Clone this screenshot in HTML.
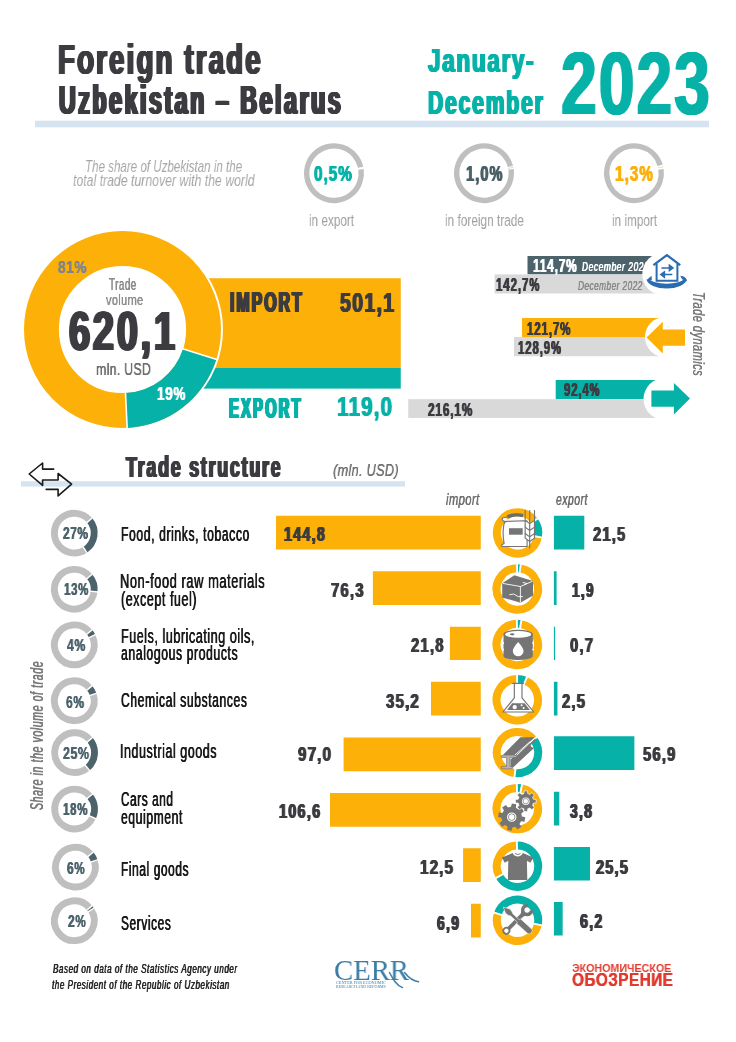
<!DOCTYPE html>
<html><head><meta charset="utf-8"><title>Foreign trade Uzbekistan - Belarus</title>
<style>
html,body{margin:0;padding:0;background:#fff;}
#p{position:relative;width:736px;height:1042px;overflow:hidden;background:#fff;font-family:"Liberation Sans",sans-serif;}
#p svg{position:absolute;left:0;top:0;}
.t{position:absolute;white-space:nowrap;line-height:1;font-weight:700;transform-origin:0 0;will-change:transform;}
.r{position:absolute;width:0;height:0;}
</style></head><body><div id="p">
<svg width="736" height="1042" viewBox="0 0 736 1042">
<rect x="35" y="120.7" width="674.00" height="6.60" fill="#d6e4f1"/>
<path d="M361.03,169.40A27.3,27.3 0 1 1 360.65,167.29" fill="none" stroke="#bfbfbf" stroke-width="5.4"/>
<path d="M511.03,169.40A27.3,27.3 0 1 1 510.43,166.36" fill="none" stroke="#bfbfbf" stroke-width="5.4"/>
<path d="M510.69,167.45A27.3,27.3 0 0 1 510.86,168.30" fill="none" stroke="#c9d0d4" stroke-width="5.4"/>
<path d="M661.03,169.40A27.3,27.3 0 1 1 660.11,165.22" fill="none" stroke="#bfbfbf" stroke-width="5.4"/>
<path d="M660.56,166.87A27.3,27.3 0 0 1 660.74,167.71" fill="none" stroke="#fbdc9c" stroke-width="5.4"/>
<rect x="150" y="278.25" width="250.75" height="89.55" fill="#fcb008"/>
<rect x="150" y="367.8" width="250.75" height="20.80" fill="#06b2a8"/>
<circle cx="122.5" cy="329.5" r="100.5" fill="#fff"/>
<circle cx="122.5" cy="329.5" r="81.05" fill="none" stroke="#fcb008" stroke-width="34.9"/>
<path d="M216.34,359.45A98.5,98.5 0 0 1 127.14,427.89L125.50,393.03A63.6,63.6 0 0 0 183.09,348.84Z" fill="#06b2a8"/>
<path d="M182.61,348.68L216.81,359.60" stroke="#fff" stroke-width="1.6"/>
<path d="M125.47,392.53L127.16,428.39" stroke="#fff" stroke-width="1.6"/>
<rect x="527.5" y="256" width="134.50" height="18.40" fill="#4d636c"/>
<rect x="494.6" y="274.4" width="167.40" height="19.10" fill="#d9d9d9"/>
<rect x="522" y="318" width="140.00" height="19.00" fill="#fcb008"/>
<rect x="514" y="337" width="148.00" height="19.25" fill="#d9d9d9"/>
<rect x="555.7" y="380" width="106.30" height="19.20" fill="#06b2a8"/>
<rect x="408.25" y="399.2" width="253.75" height="18.80" fill="#d9d9d9"/>
<rect x="21" y="481.2" width="384.00" height="5.40" fill="#d6e4f1"/>
<path d="M53.7,469.1H42.6V463L29.2,474L42.6,485.4V480H58.1V473.5L71.6,484.1L58.1,495.9V489.4H46.2" fill="none" stroke="#1a1a1a" stroke-width="1.6" stroke-linejoin="round" stroke-linecap="round"/>
<rect x="276.0" y="515.75" width="204.75" height="33.75" fill="#fcb008"/>
<rect x="553.9" y="515.75" width="30.40" height="33.75" fill="#06b2a8"/>
<path d="M537.95,536.77A20.7,20.7 0 1 1 534.35,520.83" fill="none" stroke="#fcb008" stroke-width="8.0"/>
<path d="M534.35,520.83A20.7,20.7 0 0 1 537.95,536.77" fill="none" stroke="#06b2a8" stroke-width="8.0"/>
<path d="M530.71,523.48L537.99,518.19" stroke="#fff" stroke-width="1.9"/>
<path d="M533.53,535.95L542.38,537.59" stroke="#fff" stroke-width="1.9"/>
<g transform="translate(517.6,533)"><path d="M-11.2,-11.6L6,-12.3L9.5,-12V13.5H-15.8V11.8L-13.5,10.4C-14.7,4 -14.7,-3 -13.7,-8.6C-13.5,-10 -12.5,-11.4 -11.2,-11.6Z" fill="#fff" stroke="#757575" stroke-width="1.15" stroke-linejoin="round" stroke-linecap="round"/><path d="M-10.6,-11.6C-13.5,-11.2 -15.7,-12.2 -15.4,-14.3C-15.2,-15.7 -13.3,-15.3 -11,-15.8" fill="#fff" stroke="#757575" stroke-width="1.15" stroke-linejoin="round" stroke-linecap="round"/><path d="M-10.2,-15.9C-6,-18.5 1,-18.6 5.4,-17.4" fill="none" stroke="#6c6c6c" stroke-width="3.4"/><rect x="-8.6" y="-4.8" width="13.7" height="6.5" fill="#757575"/><path d="M7.56,-12.8L12.1,-9.4L16.9,-12.8V5.1L12.1,8.5L7.56,5.1Z" fill="#fff" stroke="#757575" stroke-width="1.15" stroke-linejoin="round" stroke-linecap="round"/><path d="M7.56,-5.9L12.1,-2.5L16.9,-5.9M7.56,0.5L12.1,3.9L16.9,0.5M12.1,-22.5V15M7.56,-22.5V-12.8M16.9,-22.5V-12.8" fill="none" stroke="#757575" stroke-width="1.15" stroke-linejoin="round" stroke-linecap="round"/></g>
<path d="M85.08,549.83A19.9,19.9 0 1 1 89.54,520.31" fill="none" stroke="#bfbfbf" stroke-width="6.9"/>
<path d="M89.54,520.31A19.9,19.9 0 0 1 85.08,549.83" fill="none" stroke="#4d636c" stroke-width="6.9"/>
<path d="M86.52,522.85L92.57,517.77" stroke="#fff" stroke-width="1.4"/>
<path d="M82.94,546.51L87.22,553.15" stroke="#fff" stroke-width="1.4"/>
<rect x="372.86032458563534" y="571.25" width="107.89" height="33.75" fill="#fcb008"/>
<rect x="553.9" y="571.25" width="2.69" height="33.75" fill="#06b2a8"/>
<path d="M520.18,568.50A20.7,20.7 0 1 1 517.05,568.30" fill="none" stroke="#fcb008" stroke-width="8.0"/>
<path d="M517.05,568.30A20.7,20.7 0 0 1 520.18,568.50" fill="none" stroke="#06b2a8" stroke-width="8.0"/>
<path d="M517.10,572.80L516.99,563.80" stroke="#fff" stroke-width="1.9"/>
<path d="M519.55,572.96L520.81,564.05" stroke="#fff" stroke-width="1.9"/>
<g transform="translate(517.3,589)"><path d="M-15.1,-5.7L-2.9,-13.7L15.7,-8V6.5L3.1,13.7L-15.1,8.4Z" fill="#757575"/><path d="M-14.6,-5.6L3.1,-2.5L15.4,-7.8M3.1,-2.5V13.7M-8,5.8L-3.7,5L0.9,7.6H5.5M5.4,-6.6L9.6,-5.5L7.2,-4.2" fill="none" stroke="#fff" stroke-width="0.9" stroke-linejoin="round"/></g>
<path d="M94.06,591.61A19.9,19.9 0 1 1 89.54,576.46" fill="none" stroke="#bfbfbf" stroke-width="6.9"/>
<path d="M89.54,576.46A19.9,19.9 0 0 1 94.06,591.61" fill="none" stroke="#4d636c" stroke-width="6.9"/>
<path d="M86.52,579.00L92.57,573.92" stroke="#fff" stroke-width="1.4"/>
<path d="M90.14,591.14L97.98,592.07" stroke="#fff" stroke-width="1.4"/>
<rect x="449.9243784530387" y="626.75" width="30.83" height="33.25" fill="#fcb008"/>
<rect x="553.9" y="626.75" width="1.20" height="33.25" fill="#06b2a8"/>
<path d="M520.75,624.09A20.7,20.7 0 1 1 516.90,623.80" fill="none" stroke="#fcb008" stroke-width="8.0"/>
<path d="M516.90,623.80A20.7,20.7 0 0 1 520.75,624.09" fill="none" stroke="#06b2a8" stroke-width="8.0"/>
<path d="M516.99,628.30L516.82,619.30" stroke="#fff" stroke-width="1.9"/>
<path d="M520.00,628.53L521.50,619.65" stroke="#fff" stroke-width="1.9"/>
<g transform="translate(517.3,644.5)"><path d="M-13.8,-10.2V11.5A14.65,4 0 0 0 15.5,11.5V-10.2A14.65,4.6 0 0 0 -13.8,-10.2Z" fill="#757575"/><ellipse cx="0.85" cy="-10.1" rx="13" ry="3.3" fill="#fff"/><ellipse cx="-5.1" cy="-10.2" rx="2.3" ry="1.1" fill="#757575"/><circle cx="-14.1" cy="-1.5" r="0.9" fill="#fff"/><circle cx="-14.1" cy="5" r="0.9" fill="#fff"/><circle cx="15.8" cy="-1.5" r="0.9" fill="#fff"/><circle cx="15.8" cy="5" r="0.9" fill="#fff"/><path d="M0.85,-2.4C0.85,-2.4 -4.5,3.4 -4.5,6.4A5.35,5.35 0 0 0 6.2,6.4C6.2,3.4 0.85,-2.4 0.85,-2.4Z" fill="#fff"/></g>
<path d="M92.25,636.20A19.9,19.9 0 1 1 89.54,632.01" fill="none" stroke="#bfbfbf" stroke-width="6.9"/>
<path d="M89.54,632.01A19.9,19.9 0 0 1 92.25,636.20" fill="none" stroke="#4d636c" stroke-width="6.9"/>
<path d="M86.52,634.55L92.57,629.47" stroke="#fff" stroke-width="1.4"/>
<path d="M88.68,637.91L95.81,634.49" stroke="#fff" stroke-width="1.4"/>
<rect x="430.97651933701655" y="681.75" width="49.77" height="33.75" fill="#fcb008"/>
<rect x="553.9" y="681.75" width="3.54" height="33.75" fill="#06b2a8"/>
<path d="M525.39,680.75A20.7,20.7 0 1 1 517.12,679.10" fill="none" stroke="#fcb008" stroke-width="8.0"/>
<path d="M517.12,679.10A20.7,20.7 0 0 1 525.39,680.75" fill="none" stroke="#06b2a8" stroke-width="8.0"/>
<path d="M517.16,683.60L517.08,674.60" stroke="#fff" stroke-width="1.9"/>
<path d="M523.63,684.89L527.15,676.60" stroke="#fff" stroke-width="1.9"/>
<g transform="translate(517.3,699.8)"><path d="M-2.95,-16.4V-1.9L-14.4,12.2H16.5L4.7,-1.9V-16.4" fill="#fff" stroke="#757575" stroke-width="1.15" stroke-linejoin="round" stroke-linecap="round"/><path d="M-4.6,-16.4H6.3" fill="none" stroke="#757575" stroke-width="1.15" stroke-linejoin="round" stroke-linecap="round"/><path d="M-5.2,3.4H7.3L12.7,10.3H-10.2Z" fill="#757575"/><circle cx="-2.6" cy="7.3" r="2.2" fill="#fff"/><circle cx="4.3" cy="5.4" r="1" fill="#fff"/><circle cx="6.3" cy="8.1" r="1" fill="#fff"/></g>
<path d="M93.18,694.42A19.9,19.9 0 1 1 89.54,687.91" fill="none" stroke="#bfbfbf" stroke-width="6.9"/>
<path d="M89.54,687.91A19.9,19.9 0 0 1 93.18,694.42" fill="none" stroke="#4d636c" stroke-width="6.9"/>
<path d="M86.52,690.45L92.57,685.37" stroke="#fff" stroke-width="1.4"/>
<path d="M89.43,695.67L96.93,693.17" stroke="#fff" stroke-width="1.4"/>
<rect x="343.5901243093923" y="737.5" width="137.16" height="33.75" fill="#fcb008"/>
<rect x="553.9" y="736.25" width="80.46" height="33.75" fill="#06b2a8"/>
<path d="M514.98,773.15A20.7,20.7 0 1 1 533.59,739.57" fill="none" stroke="#fcb008" stroke-width="8.0"/>
<path d="M533.59,739.57A20.7,20.7 0 0 1 514.98,773.15" fill="none" stroke="#06b2a8" stroke-width="8.0"/>
<path d="M530.09,742.41L537.08,736.74" stroke="#fff" stroke-width="1.9"/>
<path d="M515.53,768.68L514.43,777.61" stroke="#fff" stroke-width="1.9"/>
<g transform="translate(517.5,752.6)"><path d="M-14.6,2.3L2.9,-15.4H17.4L-1.2,2.3Z" fill="#757575"/><path d="M-0.6,3.6L17.9,-14.4V-12.2L-0.6,5.6Z" fill="#757575"/><path d="M-7.0,6.6L12.4,-10.2L13.4,-6.2L16.2,-4.4L-4.4,14.8H-7.0Z" fill="#757575"/><path d="M-1.0,3.0L17.6,-15.0M-6.6,6.0L12.6,-11.0" fill="none" stroke="#fff" stroke-width="0.9"/><path d="M-16.1,2.9H-1.2V4.9H-7.6V13.9H-5.2V16.2H-16.1V13.9H-10.9V4.9H-16.1Z" fill="#b4b4b4" stroke="#757575" stroke-width="0.7" stroke-linejoin="round"/></g>
<path d="M87.39,767.84A19.9,19.9 0 1 1 89.84,739.81" fill="none" stroke="#bfbfbf" stroke-width="6.9"/>
<path d="M89.84,739.81A19.9,19.9 0 0 1 87.39,767.84" fill="none" stroke="#4d636c" stroke-width="6.9"/>
<path d="M86.82,742.35L92.87,737.27" stroke="#fff" stroke-width="1.4"/>
<path d="M84.85,764.82L89.93,770.87" stroke="#fff" stroke-width="1.4"/>
<rect x="330.01553867403317" y="793" width="150.73" height="33.75" fill="#fcb008"/>
<rect x="553.9" y="791.75" width="5.37" height="33.75" fill="#06b2a8"/>
<path d="M521.25,788.28A20.7,20.7 0 1 1 516.90,787.90" fill="none" stroke="#fcb008" stroke-width="8.0"/>
<path d="M516.90,787.90A20.7,20.7 0 0 1 521.25,788.28" fill="none" stroke="#06b2a8" stroke-width="8.0"/>
<path d="M516.99,792.40L516.82,783.40" stroke="#fff" stroke-width="1.9"/>
<path d="M520.39,792.70L522.11,783.86" stroke="#fff" stroke-width="1.9"/>
<g transform="translate(517.3,808.6)"><path d="M-6.31,-1.73L-5.47,-5.05L-1.07,-4.27L-1.42,-0.86L1.16,0.78L4.11,-0.97L6.67,2.68L4.01,4.85L4.68,7.84L8.00,8.68L7.22,13.08L3.81,12.73L2.17,15.31L3.92,18.26L0.27,20.82L-1.90,18.16L-4.89,18.83L-5.73,22.15L-10.13,21.37L-9.78,17.96L-12.36,16.32L-15.31,18.07L-17.87,14.42L-15.21,12.25L-15.88,9.26L-19.20,8.42L-18.42,4.02L-15.01,4.37L-13.37,1.79L-15.12,-1.16L-11.47,-3.72L-9.30,-1.06Z" fill="#757575"/><circle cx="-5.6" cy="8.55" r="4.7" fill="#fff"/><circle cx="-5.6" cy="8.55" r="3.3" fill="none" stroke="#757575" stroke-width="0.8"/><path d="M6.60,-15.07L6.78,-17.76L10.22,-17.76L10.40,-15.07L12.57,-14.17L14.60,-15.94L17.04,-13.50L15.27,-11.47L16.17,-9.30L18.86,-9.12L18.86,-5.68L16.17,-5.50L15.27,-3.33L17.04,-1.30L14.60,1.14L12.57,-0.63L10.40,0.27L10.22,2.96L6.78,2.96L6.60,0.27L4.43,-0.63L2.40,1.14L-0.04,-1.30L1.73,-3.33L0.83,-5.50L-1.86,-5.68L-1.86,-9.12L0.83,-9.30L1.73,-11.47L-0.04,-13.50L2.40,-15.94L4.43,-14.17Z" fill="#757575" stroke="#fff" stroke-width="0.7"/><circle cx="8.5" cy="-7.4" r="3.8" fill="#fff"/><circle cx="8.5" cy="-7.4" r="2.7" fill="none" stroke="#757575" stroke-width="0.7"/></g>
<path d="M92.66,817.35A19.9,19.9 0 1 1 89.84,796.21" fill="none" stroke="#bfbfbf" stroke-width="6.9"/>
<path d="M89.84,796.21A19.9,19.9 0 0 1 92.66,817.35" fill="none" stroke="#4d636c" stroke-width="6.9"/>
<path d="M86.82,798.75L92.87,793.67" stroke="#fff" stroke-width="1.4"/>
<path d="M89.08,815.69L96.25,819.00" stroke="#fff" stroke-width="1.4"/>
<rect x="463.0747582872928" y="848.25" width="17.68" height="33.75" fill="#fcb008"/>
<rect x="553.9" y="847" width="36.06" height="33.50" fill="#06b2a8"/>
<path d="M499.29,876.15A20.7,20.7 0 0 1 516.96,845.61" fill="none" stroke="#fcb008" stroke-width="8.0"/>
<path d="M516.96,845.61A20.7,20.7 0 1 1 499.29,876.15" fill="none" stroke="#06b2a8" stroke-width="8.0"/>
<path d="M517.08,850.11L516.84,841.11" stroke="#fff" stroke-width="1.9"/>
<path d="M503.25,874.01L495.33,878.29" stroke="#fff" stroke-width="1.9"/>
<g transform="translate(517.5,866.3)"><path d="M-4.9,-13.2L-15.7,-8.9L-12.7,-3.6L-9.2,-5.5L-9.6,13.6H9.8L9.4,-5.5L12.8,-3.6L15.9,-8.9L5.3,-13.2C3.8,-8.6 -3.4,-8.6 -4.9,-13.2Z" fill="#757575"/><path d="M-2.6,-13C-1.5,-11.6 2,-11.6 3,-13" fill="none" stroke="#757575" stroke-width="1"/></g>
<path d="M94.28,860.82A19.9,19.9 0 1 1 90.64,854.31" fill="none" stroke="#bfbfbf" stroke-width="6.9"/>
<path d="M90.64,854.31A19.9,19.9 0 0 1 94.28,860.82" fill="none" stroke="#4d636c" stroke-width="6.9"/>
<path d="M87.62,856.85L93.67,851.77" stroke="#fff" stroke-width="1.4"/>
<path d="M90.53,862.07L98.03,859.57" stroke="#fff" stroke-width="1.4"/>
<rect x="470.9932665745856" y="903.75" width="9.76" height="33.75" fill="#fcb008"/>
<rect x="553.9" y="902" width="8.77" height="33.50" fill="#06b2a8"/>
<path d="M537.78,924.46A20.7,20.7 0 1 1 497.87,913.73" fill="none" stroke="#fcb008" stroke-width="8.0"/>
<path d="M497.87,913.73A20.7,20.7 0 0 1 537.78,924.46" fill="none" stroke="#06b2a8" stroke-width="8.0"/>
<path d="M502.14,915.16L493.60,912.30" stroke="#fff" stroke-width="1.9"/>
<path d="M533.37,923.56L542.19,925.37" stroke="#fff" stroke-width="1.9"/>
<g transform="translate(517.5,920.3)"><g transform="translate(-11.1,10.5) rotate(-45)"><circle cx="0" cy="0" r="3.9" fill="#757575"/><rect x="2" y="-1.9" width="24" height="3.8" fill="#757575"/><path d="M22,-1.9L25.5,-3.5L25.5,3.5L22,1.9Z" fill="#757575"/><path d="M32.71,-2.86A4.45,4.45 0 1 0 32.71,2.86" fill="none" stroke="#757575" stroke-width="3.4" transform="rotate(6 29.3 0)"/><circle cx="0" cy="0" r="2.2" fill="#fff"/></g><g transform="translate(-14.2,-13.1) rotate(42.4)"><path d="M0,0L5.5,-2.8C8,-3.1 9.5,-2.6 11.5,-1.5H20.5V-3H35A3,3 0 0 1 35,3H20.5V1.5H11.5C9.5,2.6 8,3.1 5.5,2.8Z" fill="#757575" stroke="#fff" stroke-width="0.5"/></g></g>
<path d="M91.03,909.92A19.9,19.9 0 1 1 89.54,907.91" fill="none" stroke="#bfbfbf" stroke-width="6.9"/>
<path d="M89.54,907.91A19.9,19.9 0 0 1 91.03,909.92" fill="none" stroke="#4d636c" stroke-width="6.9"/>
<path d="M86.52,910.45L92.57,905.37" stroke="#fff" stroke-width="1.4"/>
<path d="M87.71,912.06L94.35,907.78" stroke="#fff" stroke-width="1.4"/>
<path d="M389.5,972.5C393,979 396.5,985.5 402.5,987.6M404.5,972.5C408.5,977.5 412.5,981 418.5,981.8" fill="none" stroke="#3b7da6" stroke-width="1.5" stroke-linecap="round"/>
</svg>
<div class="t" style="left:58.20px;top:39.00px;font-size:41.86px;transform:scaleX(0.6629);color:#3b3b40;text-shadow:1.60px 0 0 #3b3b40,-1.60px 0 0 #3b3b40,0.80px 0 0 #3b3b40,-0.80px 0 0 #3b3b40;letter-spacing:3.19px;">Foreign trade</div>
<div class="t" style="left:58.92px;top:80.00px;font-size:40.70px;transform:scaleX(0.5670);color:#3b3b40;text-shadow:2.30px 0 0 #3b3b40,-2.30px 0 0 #3b3b40,1.15px 0 0 #3b3b40,-1.15px 0 0 #3b3b40;letter-spacing:4.60px;">Uzbekistan – Belarus</div>
<div class="t" style="left:428.47px;top:44.00px;font-size:33.43px;transform:scaleX(0.6763);color:#06b2a8;text-shadow:1.20px 0 0 #06b2a8,-1.20px 0 0 #06b2a8,0.60px 0 0 #06b2a8,-0.60px 0 0 #06b2a8;letter-spacing:2.40px;">January-</div>
<div class="t" style="left:427.54px;top:86.00px;font-size:33.72px;transform:scaleX(0.6228);color:#06b2a8;text-shadow:1.52px 0 0 #06b2a8,-1.52px 0 0 #06b2a8,0.76px 0 0 #06b2a8,-0.76px 0 0 #06b2a8;letter-spacing:3.04px;">December</div>
<div class="t" style="left:560.77px;top:39.00px;font-size:89.54px;transform:scaleX(0.7171);color:#06b2a8;text-shadow:1.39px 0 0 #06b2a8,-1.39px 0 0 #06b2a8,0.69px 0 0 #06b2a8,-0.69px 0 0 #06b2a8;letter-spacing:2.77px;">2023</div>
<div class="t" style="left:84.56px;top:159.00px;font-size:15.99px;transform:scaleX(0.7248);color:#a6a6a6;font-weight:400;font-style:italic;">The share of Uzbekistan in the</div>
<div class="t" style="left:73.04px;top:173.00px;font-size:15.99px;transform:scaleX(0.7679);color:#a6a6a6;font-weight:400;font-style:italic;">total trade turnover with the world</div>
<div class="t" style="left:314.39px;top:163.00px;font-size:21.78px;transform:scaleX(0.7005);color:#06b2a8;text-shadow:0.70px 0 0 #06b2a8,-0.70px 0 0 #06b2a8;letter-spacing:1.41px;">0,5%</div>
<div class="t" style="left:309.26px;top:212.00px;font-size:16.29px;transform:scaleX(0.7207);color:#a0a0a0;font-weight:400;">in export</div>
<div class="t" style="left:466.22px;top:163.00px;font-size:21.78px;transform:scaleX(0.6710);color:#4a5f68;text-shadow:0.80px 0 0 #4a5f68,-0.80px 0 0 #4a5f68;letter-spacing:1.60px;">1,0%</div>
<div class="t" style="left:444.75px;top:212.00px;font-size:16.29px;transform:scaleX(0.7266);color:#a0a0a0;font-weight:400;">in foreign trade</div>
<div class="t" style="left:614.52px;top:163.00px;font-size:21.78px;transform:scaleX(0.7049);color:#fcb008;text-shadow:0.69px 0 0 #fcb008,-0.69px 0 0 #fcb008;letter-spacing:1.38px;">1,3%</div>
<div class="t" style="left:612.26px;top:212.00px;font-size:16.29px;transform:scaleX(0.7209);color:#a0a0a0;font-weight:400;">in import</div>
<div class="t" style="left:57.84px;top:259.00px;font-size:17.19px;transform:scaleX(0.7949);color:#7b8494;text-shadow:0.34px 0 0 #7b8494,-0.34px 0 0 #7b8494;letter-spacing:0.69px;">81%</div>
<div class="t" style="left:156.50px;top:385.00px;font-size:18.17px;transform:scaleX(0.7449);color:#fff;text-shadow:0.47px 0 0 #fff,-0.47px 0 0 #fff;letter-spacing:0.95px;">19%</div>
<div class="t" style="left:108.78px;top:277.00px;font-size:15.99px;transform:scaleX(0.6114);color:#8c8c8c;font-weight:400;text-shadow:0.41px 0 0 #8c8c8c,-0.41px 0 0 #8c8c8c;letter-spacing:0.81px;">Trade</div>
<div class="t" style="left:106.38px;top:292.00px;font-size:15.52px;transform:scaleX(0.7093);color:#8c8c8c;font-weight:400;text-shadow:0.24px 0 0 #8c8c8c,-0.24px 0 0 #8c8c8c;letter-spacing:0.48px;">volume</div>
<div class="t" style="left:68.73px;top:303.00px;font-size:56.23px;transform:scaleX(0.6749);color:#3b3b40;text-shadow:2.03px 0 0 #3b3b40,-2.03px 0 0 #3b3b40,1.02px 0 0 #3b3b40,-1.02px 0 0 #3b3b40;letter-spacing:4.07px;">620,1</div>
<div class="t" style="left:95.57px;top:361.00px;font-size:16.35px;transform:scaleX(0.7553);color:#6f6f6f;font-weight:400;text-shadow:0.19px 0 0 #6f6f6f,-0.19px 0 0 #6f6f6f;letter-spacing:0.38px;">mln. USD</div>
<div class="t" style="left:230.40px;top:288.00px;font-size:29.07px;transform:scaleX(0.5496);color:#3b3b40;text-shadow:1.76px 0 0 #3b3b40,-1.76px 0 0 #3b3b40,0.88px 0 0 #3b3b40,-0.88px 0 0 #3b3b40;letter-spacing:3.52px;">IMPORT</div>
<div class="t" style="left:339.56px;top:288.00px;font-size:28.22px;transform:scaleX(0.6914);color:#3b3b40;text-shadow:0.95px 0 0 #3b3b40,-0.95px 0 0 #3b3b40,0.47px 0 0 #3b3b40,-0.47px 0 0 #3b3b40;letter-spacing:1.90px;">501,1</div>
<div class="t" style="left:228.80px;top:394.00px;font-size:29.07px;transform:scaleX(0.5111);color:#06b2a8;text-shadow:2.05px 0 0 #06b2a8,-2.05px 0 0 #06b2a8,1.02px 0 0 #06b2a8,-1.02px 0 0 #06b2a8;letter-spacing:4.10px;">EXPORT</div>
<div class="t" style="left:337.25px;top:393.00px;font-size:27.94px;transform:scaleX(0.7405);color:#06b2a8;text-shadow:0.75px 0 0 #06b2a8,-0.75px 0 0 #06b2a8;letter-spacing:1.49px;">119,0</div>
<div class="t" style="left:533.18px;top:258.00px;font-size:17.44px;transform:scaleX(0.6789);color:#fff;text-shadow:0.62px 0 0 #fff,-0.62px 0 0 #fff;letter-spacing:1.24px;">114,7%</div>
<div class="t" style="left:582.06px;top:260.00px;font-size:13.52px;transform:scaleX(0.6151);color:#fff;font-weight:400;font-style:italic;text-shadow:0.51px 0 0 #fff,-0.51px 0 0 #fff;letter-spacing:1.02px;">December 2023</div>
<div class="t" style="left:495.55px;top:277.00px;font-size:17.73px;transform:scaleX(0.6446);color:#3b3b40;text-shadow:0.73px 0 0 #3b3b40,-0.73px 0 0 #3b3b40;letter-spacing:1.46px;">142,7%</div>
<div class="t" style="left:577.69px;top:279.00px;font-size:13.08px;transform:scaleX(0.6385);color:#8a8a8a;font-weight:400;font-style:italic;text-shadow:0.31px 0 0 #8a8a8a,-0.31px 0 0 #8a8a8a;letter-spacing:0.63px;">December 2022</div>
<div class="t" style="left:527.49px;top:321.00px;font-size:17.59px;transform:scaleX(0.6494);color:#3b3b40;text-shadow:0.71px 0 0 #3b3b40,-0.71px 0 0 #3b3b40;letter-spacing:1.42px;">121,7%</div>
<div class="t" style="left:518.26px;top:340.00px;font-size:17.59px;transform:scaleX(0.6436);color:#3b3b40;text-shadow:0.73px 0 0 #3b3b40,-0.73px 0 0 #3b3b40;letter-spacing:1.46px;">128,9%</div>
<div class="t" style="left:564.08px;top:382.00px;font-size:17.48px;transform:scaleX(0.6418);color:#3b3b40;text-shadow:0.73px 0 0 #3b3b40,-0.73px 0 0 #3b3b40;letter-spacing:1.46px;">92,4%</div>
<div class="t" style="left:427.51px;top:402.00px;font-size:17.48px;transform:scaleX(0.6770);color:#3b3b40;text-shadow:0.63px 0 0 #3b3b40,-0.63px 0 0 #3b3b40;letter-spacing:1.25px;">216,1%</div>
<div class="r" style="left:693.30px;top:292.50px;transform:rotate(90deg);transform-origin:0 0;"><div class="t" style="left:-0.80px;top:-13.00px;font-size:15.99px;transform:scaleX(0.6975);color:#7a7a7a;font-weight:400;font-style:italic;text-shadow:0.29px 0 0 #7a7a7a,-0.29px 0 0 #7a7a7a;letter-spacing:0.58px;">Trade dynamics</div></div>
<div class="t" style="left:126.37px;top:452.00px;font-size:29.65px;transform:scaleX(0.6030);color:#3b3b40;text-shadow:1.45px 0 0 #3b3b40,-1.45px 0 0 #3b3b40,0.73px 0 0 #3b3b40,-0.73px 0 0 #3b3b40;letter-spacing:2.90px;">Trade structure</div>
<div class="t" style="left:332.54px;top:462.00px;font-size:16.28px;transform:scaleX(0.7834);color:#727272;font-weight:400;font-style:italic;text-shadow:0.18px 0 0 #727272,-0.18px 0 0 #727272;letter-spacing:0.36px;">(mln. USD)</div>
<div class="t" style="left:446.40px;top:492.00px;font-size:15.72px;transform:scaleX(0.7191);color:#6e6e6e;font-weight:400;font-style:italic;text-shadow:0.25px 0 0 #6e6e6e,-0.25px 0 0 #6e6e6e;letter-spacing:0.51px;">import</div>
<div class="t" style="left:556.27px;top:492.00px;font-size:15.72px;transform:scaleX(0.6674);color:#6e6e6e;font-weight:400;font-style:italic;text-shadow:0.33px 0 0 #6e6e6e,-0.33px 0 0 #6e6e6e;letter-spacing:0.66px;">export</div>
<div class="r" style="left:43.00px;top:809.60px;transform:rotate(-90deg);transform-origin:0 0;"><div class="t" style="left:0.00px;top:-14.00px;font-size:17.62px;transform:scaleX(0.5979);color:#7a7a7a;font-weight:400;font-style:italic;text-shadow:0.51px 0 0 #7a7a7a,-0.51px 0 0 #7a7a7a;letter-spacing:1.01px;">Share in the volume of trade</div></div>
<div class="t" style="left:284.49px;top:524.00px;font-size:20.42px;transform:scaleX(0.6986);color:#3b3b40;text-shadow:0.92px 0 0 #3b3b40,-0.92px 0 0 #3b3b40,0.46px 0 0 #3b3b40,-0.46px 0 0 #3b3b40;letter-spacing:1.83px;">144,8</div>
<div class="t" style="left:593.35px;top:524.00px;font-size:20.42px;transform:scaleX(0.7178);color:#3b3b40;text-shadow:0.85px 0 0 #3b3b40,-0.85px 0 0 #3b3b40;letter-spacing:1.71px;">21,5</div>
<div class="t" style="left:62.89px;top:526.00px;font-size:15.76px;transform:scaleX(0.7525);color:#4d636c;text-shadow:0.40px 0 0 #4d636c,-0.40px 0 0 #4d636c;letter-spacing:0.79px;">27%</div>
<div class="t" style="left:120.56px;top:525.00px;font-size:19.77px;transform:scaleX(0.6153);color:#1a1a1a;font-weight:400;text-shadow:0.49px 0 0 #1a1a1a,-0.49px 0 0 #1a1a1a;letter-spacing:0.98px;">Food, drinks, tobacco</div>
<div class="t" style="left:331.46px;top:580.00px;font-size:20.42px;transform:scaleX(0.7269);color:#3b3b40;text-shadow:0.82px 0 0 #3b3b40,-0.82px 0 0 #3b3b40;letter-spacing:1.65px;">76,3</div>
<div class="t" style="left:572.36px;top:580.00px;font-size:20.42px;transform:scaleX(0.6569);color:#3b3b40;text-shadow:1.07px 0 0 #3b3b40,-1.07px 0 0 #3b3b40,0.53px 0 0 #3b3b40,-0.53px 0 0 #3b3b40;letter-spacing:2.13px;">1,9</div>
<div class="t" style="left:63.99px;top:582.00px;font-size:15.76px;transform:scaleX(0.7327);color:#4d636c;text-shadow:0.44px 0 0 #4d636c,-0.44px 0 0 #4d636c;letter-spacing:0.87px;">13%</div>
<div class="t" style="left:120.46px;top:572.00px;font-size:19.77px;transform:scaleX(0.6531);color:#1a1a1a;font-weight:400;text-shadow:0.41px 0 0 #1a1a1a,-0.41px 0 0 #1a1a1a;letter-spacing:0.82px;">Non-food raw materials</div>
<div class="t" style="left:120.77px;top:590.00px;font-size:19.77px;transform:scaleX(0.6299);color:#1a1a1a;font-weight:400;text-shadow:0.46px 0 0 #1a1a1a,-0.46px 0 0 #1a1a1a;letter-spacing:0.92px;">(except fuel)</div>
<div class="t" style="left:410.83px;top:635.00px;font-size:20.42px;transform:scaleX(0.7287);color:#3b3b40;text-shadow:0.82px 0 0 #3b3b40,-0.82px 0 0 #3b3b40;letter-spacing:1.64px;">21,8</div>
<div class="t" style="left:569.51px;top:635.00px;font-size:20.42px;transform:scaleX(0.7278);color:#3b3b40;text-shadow:0.82px 0 0 #3b3b40,-0.82px 0 0 #3b3b40;letter-spacing:1.64px;">0,7</div>
<div class="t" style="left:66.58px;top:638.00px;font-size:15.76px;transform:scaleX(0.7842);color:#4d636c;text-shadow:0.33px 0 0 #4d636c,-0.33px 0 0 #4d636c;letter-spacing:0.67px;">4%</div>
<div class="t" style="left:120.51px;top:627.00px;font-size:19.77px;transform:scaleX(0.6317);color:#1a1a1a;font-weight:400;text-shadow:0.46px 0 0 #1a1a1a,-0.46px 0 0 #1a1a1a;letter-spacing:0.91px;">Fuels, lubricating oils,</div>
<div class="t" style="left:121.03px;top:644.00px;font-size:19.77px;transform:scaleX(0.6163);color:#1a1a1a;font-weight:400;text-shadow:0.49px 0 0 #1a1a1a,-0.49px 0 0 #1a1a1a;letter-spacing:0.98px;">analogous products</div>
<div class="t" style="left:386.24px;top:691.00px;font-size:20.42px;transform:scaleX(0.7366);color:#3b3b40;text-shadow:0.79px 0 0 #3b3b40,-0.79px 0 0 #3b3b40;letter-spacing:1.59px;">35,2</div>
<div class="t" style="left:562.09px;top:691.00px;font-size:20.42px;transform:scaleX(0.7245);color:#3b3b40;text-shadow:0.83px 0 0 #3b3b40,-0.83px 0 0 #3b3b40;letter-spacing:1.66px;">2,5</div>
<div class="t" style="left:65.73px;top:695.00px;font-size:15.76px;transform:scaleX(0.7707);color:#4d636c;text-shadow:0.36px 0 0 #4d636c,-0.36px 0 0 #4d636c;letter-spacing:0.72px;">6%</div>
<div class="t" style="left:120.94px;top:691.00px;font-size:19.77px;transform:scaleX(0.6116);color:#1a1a1a;font-weight:400;text-shadow:0.50px 0 0 #1a1a1a,-0.50px 0 0 #1a1a1a;letter-spacing:1.00px;">Chemical substances</div>
<div class="t" style="left:297.80px;top:744.00px;font-size:20.42px;transform:scaleX(0.7438);color:#3b3b40;text-shadow:0.77px 0 0 #3b3b40,-0.77px 0 0 #3b3b40;letter-spacing:1.54px;">97,0</div>
<div class="t" style="left:643.41px;top:744.00px;font-size:20.42px;transform:scaleX(0.7207);color:#3b3b40;text-shadow:0.84px 0 0 #3b3b40,-0.84px 0 0 #3b3b40;letter-spacing:1.69px;">56,9</div>
<div class="t" style="left:62.82px;top:746.00px;font-size:15.76px;transform:scaleX(0.7944);color:#4d636c;text-shadow:0.32px 0 0 #4d636c,-0.32px 0 0 #4d636c;letter-spacing:0.63px;">25%</div>
<div class="t" style="left:120.39px;top:742.00px;font-size:19.77px;transform:scaleX(0.6292);color:#1a1a1a;font-weight:400;text-shadow:0.46px 0 0 #1a1a1a,-0.46px 0 0 #1a1a1a;letter-spacing:0.92px;">Industrial goods</div>
<div class="t" style="left:278.72px;top:801.00px;font-size:20.42px;transform:scaleX(0.7080);color:#3b3b40;text-shadow:0.88px 0 0 #3b3b40,-0.88px 0 0 #3b3b40;letter-spacing:1.77px;">106,6</div>
<div class="t" style="left:570.35px;top:801.00px;font-size:20.42px;transform:scaleX(0.6772);color:#3b3b40;text-shadow:0.99px 0 0 #3b3b40,-0.99px 0 0 #3b3b40,0.50px 0 0 #3b3b40,-0.50px 0 0 #3b3b40;letter-spacing:1.98px;">3,8</div>
<div class="t" style="left:62.88px;top:802.00px;font-size:15.76px;transform:scaleX(0.7370);color:#4d636c;text-shadow:0.43px 0 0 #4d636c,-0.43px 0 0 #4d636c;letter-spacing:0.86px;">18%</div>
<div class="t" style="left:120.98px;top:790.00px;font-size:19.77px;transform:scaleX(0.5909);color:#1a1a1a;font-weight:400;text-shadow:0.55px 0 0 #1a1a1a,-0.55px 0 0 #1a1a1a;letter-spacing:1.10px;">Cars and</div>
<div class="t" style="left:121.05px;top:808.00px;font-size:19.77px;transform:scaleX(0.6100);color:#1a1a1a;font-weight:400;text-shadow:0.50px 0 0 #1a1a1a,-0.50px 0 0 #1a1a1a;letter-spacing:1.01px;">equipment</div>
<div class="t" style="left:420.37px;top:857.00px;font-size:20.42px;transform:scaleX(0.7430);color:#3b3b40;text-shadow:0.77px 0 0 #3b3b40,-0.77px 0 0 #3b3b40;letter-spacing:1.55px;">12,5</div>
<div class="t" style="left:596.37px;top:857.00px;font-size:20.42px;transform:scaleX(0.7085);color:#3b3b40;text-shadow:0.88px 0 0 #3b3b40,-0.88px 0 0 #3b3b40;letter-spacing:1.77px;">25,5</div>
<div class="t" style="left:67.47px;top:861.00px;font-size:15.76px;transform:scaleX(0.7476);color:#4d636c;text-shadow:0.41px 0 0 #4d636c,-0.41px 0 0 #4d636c;letter-spacing:0.81px;">6%</div>
<div class="t" style="left:120.60px;top:860.00px;font-size:19.77px;transform:scaleX(0.5983);color:#1a1a1a;font-weight:400;text-shadow:0.53px 0 0 #1a1a1a,-0.53px 0 0 #1a1a1a;letter-spacing:1.06px;">Final goods</div>
<div class="t" style="left:436.66px;top:913.00px;font-size:20.42px;transform:scaleX(0.6786);color:#3b3b40;text-shadow:0.99px 0 0 #3b3b40,-0.99px 0 0 #3b3b40,0.49px 0 0 #3b3b40,-0.49px 0 0 #3b3b40;letter-spacing:1.97px;">6,9</div>
<div class="t" style="left:580.13px;top:911.00px;font-size:20.42px;transform:scaleX(0.6947);color:#3b3b40;text-shadow:0.93px 0 0 #3b3b40,-0.93px 0 0 #3b3b40,0.46px 0 0 #3b3b40,-0.46px 0 0 #3b3b40;letter-spacing:1.86px;">6,2</div>
<div class="t" style="left:67.79px;top:914.00px;font-size:15.76px;transform:scaleX(0.7520);color:#4d636c;text-shadow:0.40px 0 0 #4d636c,-0.40px 0 0 #4d636c;letter-spacing:0.79px;">2%</div>
<div class="t" style="left:121.03px;top:914.00px;font-size:19.77px;transform:scaleX(0.5986);color:#1a1a1a;font-weight:400;text-shadow:0.53px 0 0 #1a1a1a,-0.53px 0 0 #1a1a1a;letter-spacing:1.06px;">Services</div>
<div class="t" style="left:52.52px;top:962.00px;font-size:13.37px;transform:scaleX(0.6039);color:#2a2a2a;font-weight:400;font-style:italic;text-shadow:0.45px 0 0 #2a2a2a,-0.45px 0 0 #2a2a2a;letter-spacing:0.90px;">Based on data of the Statistics Agency under</div>
<div class="t" style="left:52.41px;top:978.00px;font-size:13.37px;transform:scaleX(0.6029);color:#2a2a2a;font-weight:400;font-style:italic;text-shadow:0.45px 0 0 #2a2a2a,-0.45px 0 0 #2a2a2a;letter-spacing:0.90px;">the President of the Republic of Uzbekistan</div>
<div class="t" style="left:334.02px;top:956.00px;font-size:29.46px;transform:scaleX(0.9751);color:#3b7da6;font-family:'Liberation Serif',serif;font-weight:400;">CERR</div>
<div class="t" style="left:335.62px;top:982.00px;font-size:3.78px;transform:scaleX(1.1350);color:#3b7da6;font-family:'Liberation Serif',serif;font-weight:400;">CENTER FOR ECONOMIC</div>
<div class="t" style="left:335.68px;top:986.00px;font-size:3.78px;transform:scaleX(1.0582);color:#3b7da6;font-family:'Liberation Serif',serif;font-weight:400;">RESEARCH AND REFORMS</div>
<div class="t" style="left:572.18px;top:963.00px;font-size:11.34px;transform:scaleX(0.9429);color:#e23a2e;">ЭКОНОМИЧЕСКОЕ</div>
<div class="t" style="left:572.01px;top:971.00px;font-size:18.31px;transform:scaleX(0.8374);color:#e23a2e;text-shadow:0.28px 0 0 #e23a2e,-0.28px 0 0 #e23a2e;letter-spacing:0.56px;">ОБОЗРЕНИЕ</div>
<svg width="736" height="1042" viewBox="0 0 736 1042" style="pointer-events:none">
<circle cx="663.8" cy="274" r="21.5" fill="#fff"/>
<path d="M646.5,279.5A20.2,10.1 0 0 0 686.7,279.5L683.6,279A17.1,5.2 0 0 1 649.6,279Z" fill="#2b6cb0"/><path d="M647.2,279.6L651.6,275.8L651.8,280.2Z" fill="#2b6cb0"/><path d="M680.3,275.8C684,276 686.6,278 686.9,281.2C684,281.5 681.5,279.5 680.3,275.8Z" fill="#2b6cb0"/><path d="M655,264L666.9,255L678.8,264V282H655Z" fill="#fff"/><path d="M656.6,263.5V280.8H677.4V263.5" fill="none" stroke="#2b6cb0" stroke-width="2"/><path d="M653.4,265.2L666.9,255.2L680.2,265.2" fill="none" stroke="#2b6cb0" stroke-width="2.3" stroke-linejoin="miter"/><path d="M661.4,267.9H670M669.4,265.2L673,267.9L669.4,270.6Z M672.3,274.6H664M664.4,271.9L660.8,274.6L664.4,277.3Z" fill="#2b6cb0" stroke="#2b6cb0" stroke-width="1.5"/>
<circle cx="665" cy="337" r="20" fill="#fff"/>
<path d="M646.6,337.6L662.8,321.8V329.6H685V345.8H662.8V353.6Z" fill="#fcb008"/>
<circle cx="664.5" cy="399" r="21" fill="#fff"/>
<path d="M690,398.6L673.9,383.1V390.5H651.4V406.8H673.9V414.6Z" fill="#06b2a8"/>
</svg>
</div></body></html>
